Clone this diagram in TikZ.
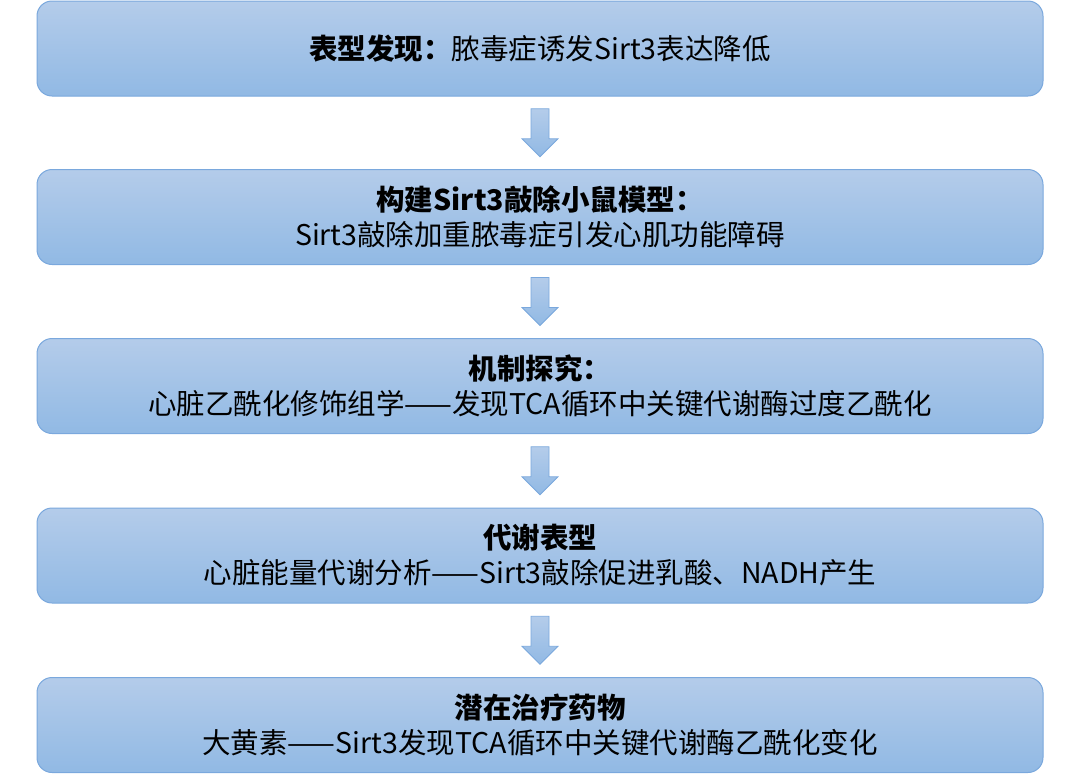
\documentclass[tikz,border=0pt]{standalone}
\usepackage{fontspec}
\setmainfont{Noto Sans CJK SC}
\usetikzlibrary{calc}

\definecolor{boxtop}{RGB}{180,204,234}
\definecolor{boxbot}{RGB}{145,185,228}
\definecolor{boxline}{RGB}{122,168,221}

\tikzset{
  stepbox/.style={draw=boxline, line width=1pt, rounded corners=15pt,
    top color=boxtop, bottom color=boxbot,
    minimum width=1006pt, minimum height=95pt, align=center,
    font=\fontsize{28.5}{35}\selectfont},
  downarrow/.style={draw=boxline, line width=0.8pt,
    top color=boxtop, bottom color=boxbot}
}
% block arrow pointing down, centred on a coordinate
\newcommand{\blockarrow}[1]{%
  \draw [downarrow] ($(#1)+(-9,-24)$) -- ($(#1)+(9,-24)$) -- ($(#1)+(9,6)$)
    -- ($(#1)+(18,6)$) -- ($(#1)+(0,24)$) -- ($(#1)+(-18,6)$)
    -- ($(#1)+(-9,6)$) -- cycle;}

\begin{document}
\begin{tikzpicture}[x=1pt,y=-1pt]
\useasboundingbox (0,0) rectangle (1080,774);

% Boxes
\node [stepbox] (pheno) at (540,48.5) {\textbf{表型发现：}脓毒症诱发Sirt3表达降低};
\node [stepbox] (model) at (540,217) {\textbf{构建Sirt3敲除小鼠模型：}\\Sirt3敲除加重脓毒症引发心肌功能障碍};
\node [stepbox] (mech) at (540,386) {\textbf{机制探究：}\\心脏乙酰化修饰组学——发现TCA循环中关键代谢酶过度乙酰化};
\node [stepbox] (meta) at (540,555.5) {\textbf{代谢表型}\\心脏能量代谢分析——Sirt3敲除促进乳酸、NADH产生};
\node [stepbox] (drug) at (540,725) {\textbf{潜在治疗药物}\\大黄素——Sirt3发现TCA循环中关键代谢酶乙酰化变化};

% Arrows
\coordinate (a1) at ($(pheno.south)!0.5!(model.north)$);
\coordinate (a2) at ($(model.south)!0.5!(mech.north)$);
\coordinate (a3) at ($(mech.south)!0.5!(meta.north)$);
\coordinate (a4) at ($(meta.south)!0.5!(drug.north)$);
\blockarrow{a1}
\blockarrow{a2}
\blockarrow{a3}
\blockarrow{a4}

\end{tikzpicture}
\end{document}
